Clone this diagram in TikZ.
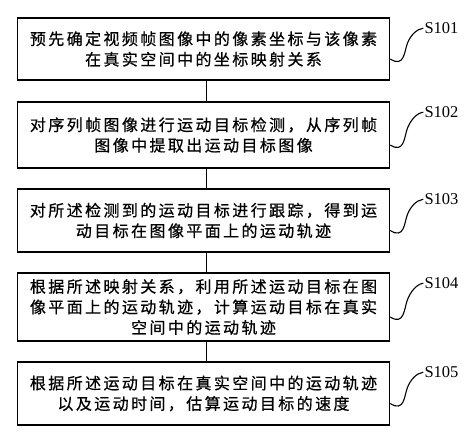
\documentclass[tikz,border=0pt]{standalone}
\usepackage{fontspec}
\newfontfamily\cjk[LetterSpace=15,FakeBold=0.6]{Noto Sans CJK SC}
\newfontfamily\labfont{Liberation Serif}
\usetikzlibrary{calc}
\begin{document}
\begin{tikzpicture}[x=1pt,y=1pt,
  stepbox/.style={draw, line width=1.6pt, minimum width=372pt, inner sep=0pt,
    align=center, font=\cjk\fontsize{16pt}{20.5pt}\selectfont},
  steplab/.style={anchor=west, inner sep=0pt, font=\labfont\fontsize{16.5pt}{18pt}\selectfont},
  link/.style={line width=0.9pt},
  squig/.style={line width=1.1pt}]
\useasboundingbox (0,0) rectangle (474,440);
\node[stepbox, minimum height=62pt] (b1) at (203.5,391) {预先确定视频帧图像中的像素坐标与该像素\\在真实空间中的坐标映射关系};
\node[stepbox, minimum height=66pt] (b2) at (203.5,305) {对序列帧图像进行运动目标检测，从序列帧\\图像中提取出运动目标图像};
\node[stepbox, minimum height=63pt] (b3) at (203.5,219.5) {对所述检测到的运动目标进行跟踪，得到运\\动目标在图像平面上的运动轨迹};
\node[stepbox, minimum height=68pt] (b4) at (203.5,133) {根据所述映射关系，利用所述运动目标在图\\像平面上的运动轨迹，计算运动目标在真实\\空间中的运动轨迹};
\node[stepbox, minimum height=63pt] (b5) at (203.5,46.5) {根据所述运动目标在真实空间中的运动轨迹\\以及运动时间，估算运动目标的速度};
\foreach \i in {1,...,5}{
  \node[steplab] (l\i) at ([xshift=34pt,yshift=-11pt]b\i.north east) {S10\i};
  \coordinate (s\i) at ([yshift=-10pt]b\i.east);
  \coordinate (m\i) at ($(s\i)!0.5!(l\i.west)$);
  \draw[squig] (s\i) .. controls ($(s\i)+(14pt,-9pt)$) and ($(m\i)+(-3pt,-8pt)$) .. (m\i)
     .. controls ($(m\i)+(3pt,8pt)$) and ($(l\i.west)+(-8pt,-1pt)$) .. ([xshift=-1pt]l\i.west);
}
\foreach \a/\b in {b1/b2,b2/b3,b3/b4,b4/b5}{
  \draw[link] ([xshift=2.5pt]\a.south) -- ([xshift=2.5pt]\b.north);
}
\end{tikzpicture}
\end{document}
